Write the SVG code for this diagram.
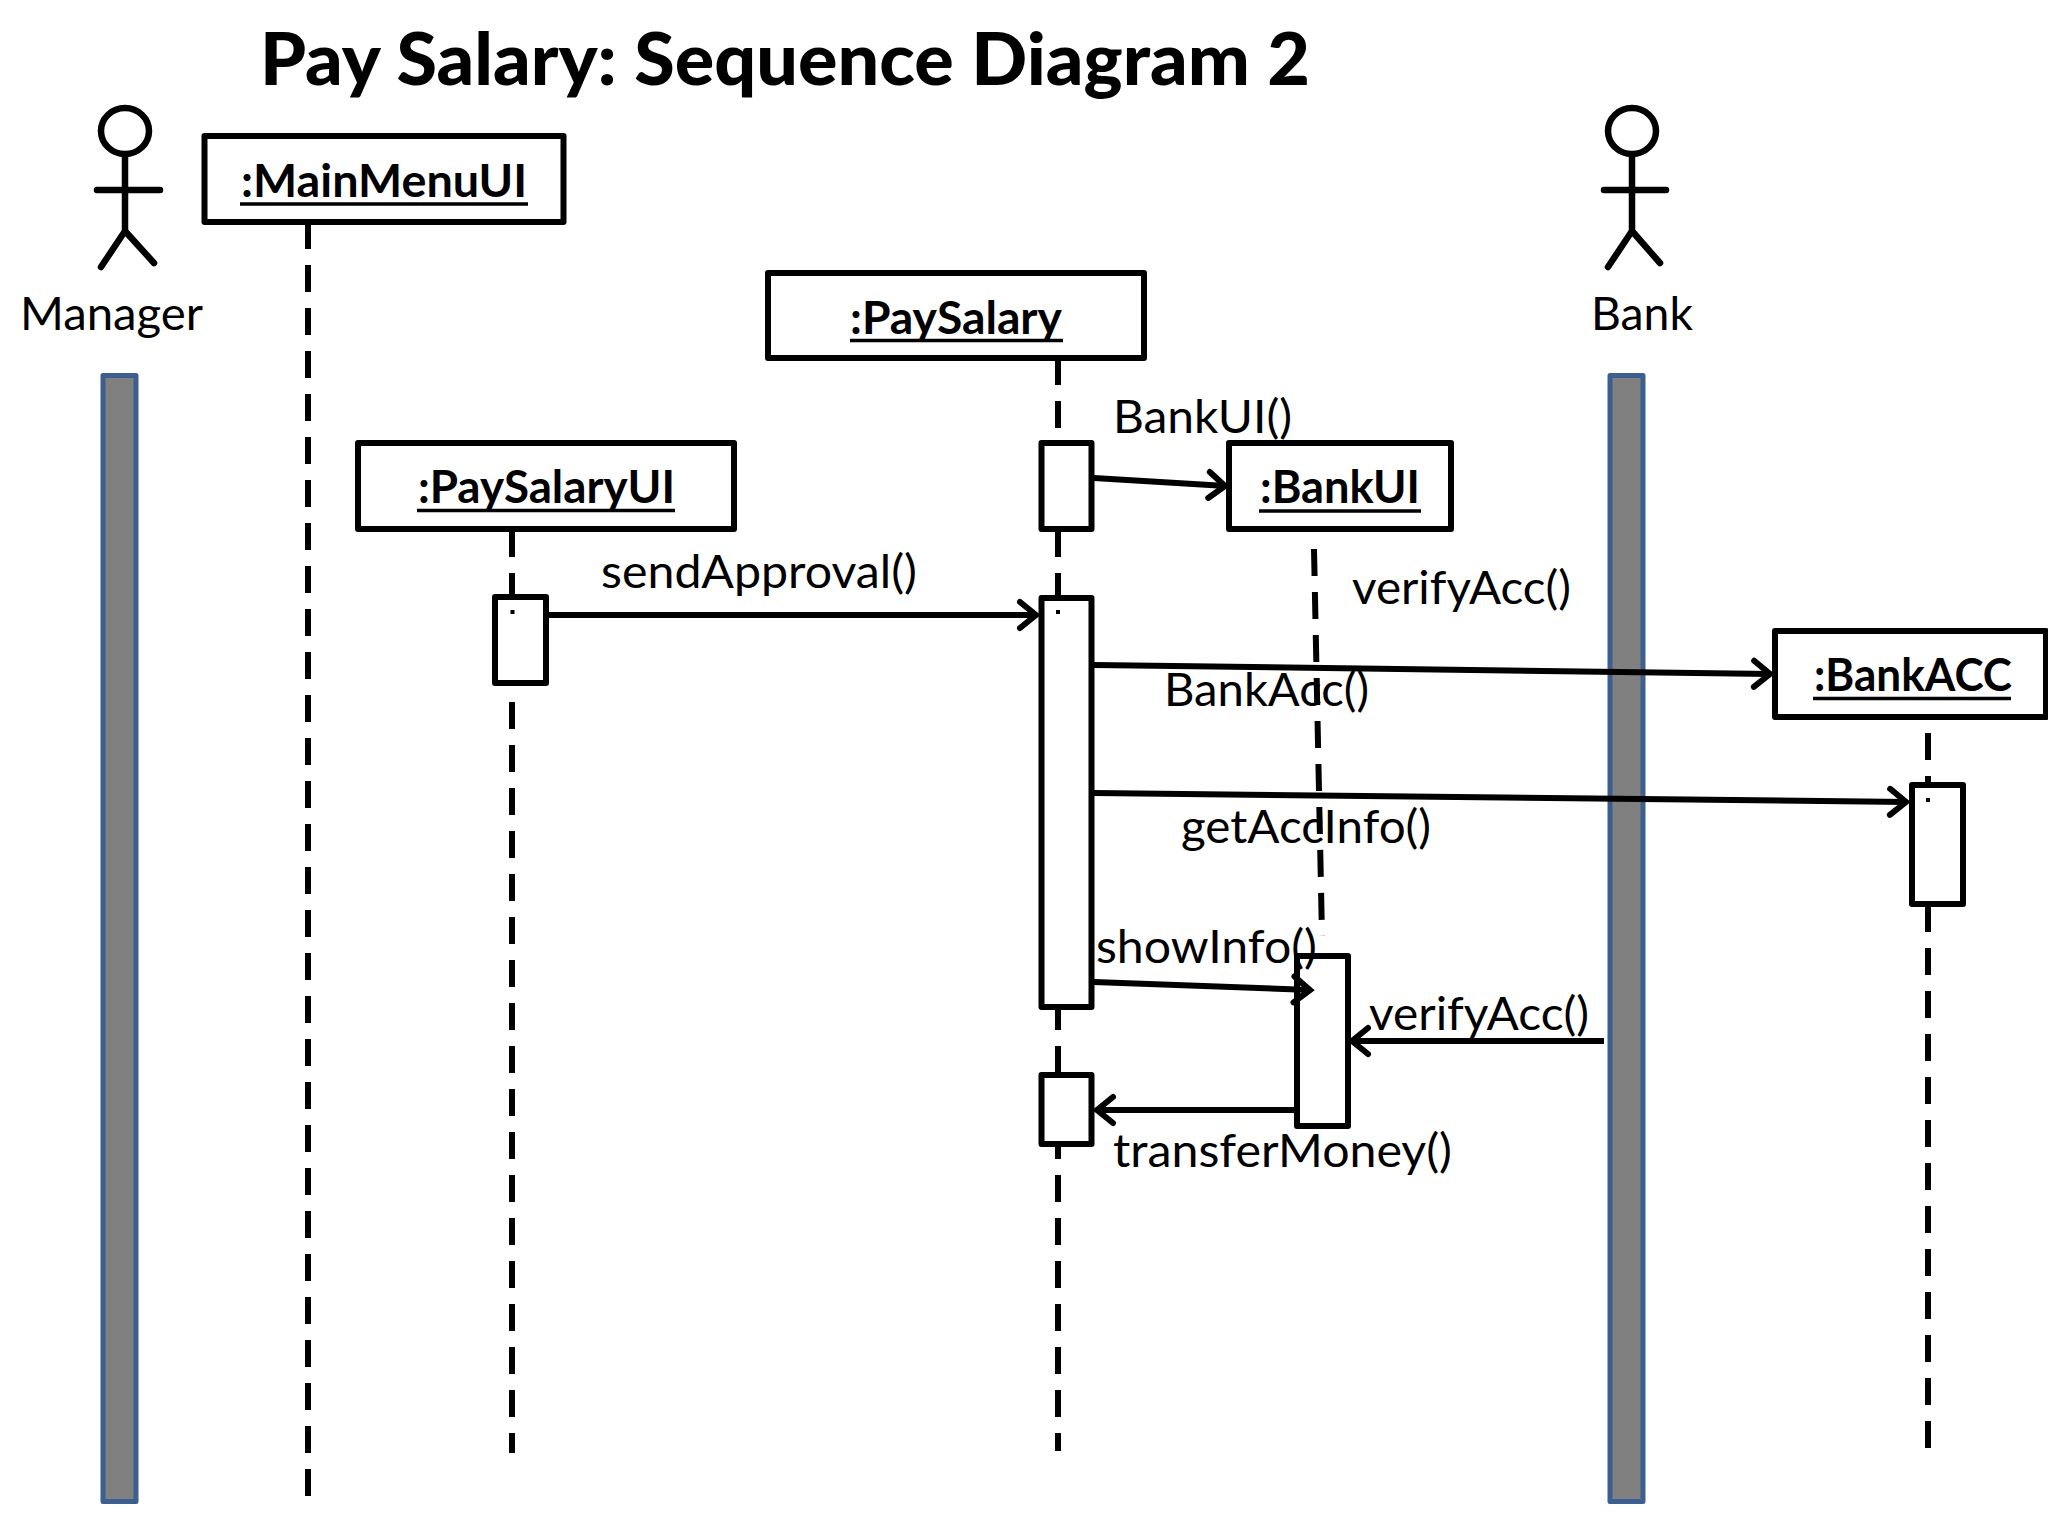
<svg xmlns="http://www.w3.org/2000/svg" width="2048" height="1536" viewBox="0 0 2048 1536">
<style>
text{font-family:"Lato","Noto Sans","Liberation Sans",sans-serif;fill:#000}
.t{font-size:46px}
.n{font-size:46px;font-weight:700}
.h{font-size:73px;font-weight:900}
.box{fill:#fff;stroke:#000;stroke-width:6;stroke-linejoin:round}
.ln{fill:none;stroke:#000;stroke-width:6.500;stroke-linecap:round;stroke-linejoin:round}
.ul{stroke:#000;stroke-width:3.500}
.life{stroke:#000;stroke-width:6;stroke-dasharray:27 16;fill:none}
.bar{fill:#808080;stroke:#3c5f8f;stroke-width:5;stroke-linejoin:round}
.msg{fill:none;stroke:#000;stroke-width:6;marker-end:url(#open)}
</style>
<defs>
<marker id="open" markerUnits="userSpaceOnUse" markerWidth="30" markerHeight="34" refX="22" refY="17" orient="auto" overflow="visible">
<path d="M5,4 L21,17 L5,30" fill="none" stroke="#000" stroke-width="6" stroke-linecap="round"/>
</marker>
</defs>
<rect width="2048" height="1536" fill="#fff"/>
<text id="title" class="h" x="260" y="85" textLength="1050" lengthAdjust="spacingAndGlyphs">Pay Salary: Sequence Diagram 2</text>

<g id="manager">
<ellipse class="ln" cx="125" cy="131" rx="24" ry="23"/>
<path class="ln" d="M125,155V231M97,190H160M125,231L101,267M125,231L154,263"/>
<text class="t" x="20" y="330" textLength="183" lengthAdjust="spacingAndGlyphs">Manager</text>
<rect class="bar" x="103" y="375.500" width="33" height="1126"/>
</g>

<g id="bank">
<ellipse class="ln" cx="1632" cy="131" rx="24" ry="23"/>
<path class="ln" d="M1632,155V231M1604,190H1666M1632,231L1608,267M1632,231L1660,263"/>
<text class="t" x="1591" y="330" textLength="102" lengthAdjust="spacingAndGlyphs">Bank</text>
<rect class="bar" x="1610" y="375.500" width="33" height="1126"/>
</g>

<g id="mainmenuui">
<path class="life" d="M308,222V1502"/>
<rect class="box" x="204.500" y="136" width="359" height="86"/>
<text class="n" x="241" y="197" textLength="286" lengthAdjust="spacingAndGlyphs">:MainMenuUI</text>
<path class="ul" d="M240,204H528"/>
</g>

<g id="paysalaryui">
<path class="life" d="M512,530V1453"/>
<rect class="box" x="358" y="443" width="376" height="86"/>
<text class="n" x="418" y="503" textLength="257" lengthAdjust="spacingAndGlyphs">:PaySalaryUI</text>
<path class="ul" d="M417,510.500H675"/>
<rect class="box" x="495" y="597" width="51" height="86"/>
<rect x="510.500" y="610" width="4" height="4" fill="#000"/>
</g>

<g id="paysalary">
<path class="life" d="M1058,358V1451"/>
<rect class="box" x="768" y="273" width="376" height="85"/>
<text class="n" x="850" y="334" textLength="212" lengthAdjust="spacingAndGlyphs">:PaySalary</text>
<path class="ul" d="M850,340.500H1063"/>
<rect class="box" x="1041.500" y="443" width="50" height="86"/>
<rect class="box" x="1041.500" y="598" width="50" height="409"/>
<rect x="1056" y="610" width="4" height="4" fill="#000"/>
<rect class="box" x="1041.500" y="1075" width="50" height="69"/>
</g>

<g id="bankui">
<path class="life" d="M1314,549L1322,936"/>
<rect class="box" x="1229" y="443" width="222" height="86"/>
<text class="n" x="1260" y="503" textLength="160" lengthAdjust="spacingAndGlyphs">:BankUI</text>
<path class="ul" d="M1259,511H1421"/>
<rect class="box" x="1297" y="956" width="51" height="170"/>
</g>

<g id="bankacc">
<path class="life" stroke-dashoffset="-16" d="M1928,717V1451"/>
<rect class="box" x="1775" y="631" width="271" height="86"/>
<text class="n" x="1814" y="691" textLength="198" lengthAdjust="spacingAndGlyphs">:BankACC</text>
<path class="ul" d="M1813,698.500H2011"/>
<rect class="box" x="1912" y="785" width="51" height="119"/>
<rect x="1926" y="798" width="4" height="4" fill="#000"/>
</g>

<g id="connectors">
<path class="msg" d="M1094,478L1226,486"/>
<path class="msg" d="M546,615H1037"/>
<path class="msg" d="M1094,665L1771,674"/>
<path class="msg" d="M1094,793L1907,802"/>
<path class="msg" d="M1094,982L1311,990"/>
<path class="msg" d="M1604,1041H1351"/>
<path class="msg" d="M1297,1110H1096"/>
<text class="t" x="1113" y="433" textLength="179" lengthAdjust="spacingAndGlyphs">BankUI()</text>
<text class="t" x="601" y="588" textLength="316" lengthAdjust="spacingAndGlyphs">sendApproval()</text>
<text class="t" x="1352" y="604" textLength="219" lengthAdjust="spacingAndGlyphs">verifyAcc()</text>
<text class="t" x="1164" y="706" textLength="205" lengthAdjust="spacingAndGlyphs">BankAcc()</text>
<text class="t" x="1181" y="843" textLength="250" lengthAdjust="spacingAndGlyphs">getAccInfo()</text>
<text class="t" x="1096" y="963" textLength="221" lengthAdjust="spacingAndGlyphs">showInfo()</text>
<text class="t" x="1369" y="1030" textLength="220" lengthAdjust="spacingAndGlyphs">verifyAcc()</text>
<text class="t" x="1113" y="1167" textLength="339" lengthAdjust="spacingAndGlyphs">transferMoney()</text>
</g>
</svg>
